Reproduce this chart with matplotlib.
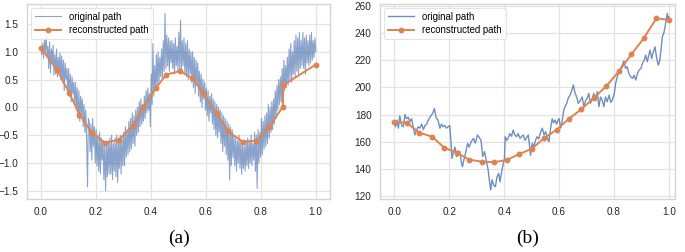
import numpy as np
import matplotlib
matplotlib.use('Agg')
import matplotlib.pyplot as plt

# ---- data ----

# (a) noisy periodic path, sampled on a uniform time grid
path_a = [
    1.05, 0.95, 1.15, 0.88, 1.22, 1.00, 1.30, 0.90,
    1.10, 0.70, 1.18, 0.62, 1.05, 0.80, 1.12, 0.58,
    0.95, 0.60, 1.05, 0.55, 0.90, 0.65, 0.98, 0.50,
    0.92, 0.45, 0.85, 0.30, 0.80, 0.50, 0.70, 0.28,
    0.70, 0.20, 0.60, 0.10, 0.55, 0.25, 0.45, 0.05,
    0.45, -0.05, 0.35, -0.20, 0.30, -0.25, 0.20, -0.10,
    0.15, -0.35, 0.05, -0.45, -0.05, -0.60, -1.43, -0.20,
    -0.25, -0.80, -0.30, -0.95, -0.20, -0.70, -0.35, -1.00,
    -0.40, -1.05, -0.50, -1.15, -0.45, -1.20, -0.55, -0.95,
    -0.60, -1.30, -0.70, -1.50, -0.65, -1.25, -0.60, -1.20,
    -0.55, -1.20, -0.50, -1.30, -0.65, -1.15, -0.55, -1.25,
    -0.50, -1.35, -0.60, -1.10, -0.50, -1.20, -0.55, -1.05,
    -0.45, -1.05, -0.35, -0.90, -0.40, -0.85, -0.25, -0.80,
    -0.20, -0.75, -0.10, -0.65, -0.15, -0.70, -0.05, -0.50,
    0.00, -0.45, 0.10, -0.35, 0.15, -0.30, 0.05, -0.25,
    0.20, -0.20, 0.30, -0.10, 0.35, -0.05, 0.25, -0.35,
    0.60, 0.05, 1.15, 0.20, 0.75, 0.30, 0.95, 0.35,
    1.00, 0.45, 0.90, 0.55, 1.05, 0.50, 1.20, 0.65,
    1.69, 0.70, 1.30, 0.75, 1.25, 0.65, 1.20, 0.80,
    1.20, 0.70, 1.15, 0.60, 1.25, 0.75, 1.10, 0.65,
    1.35, 0.70, 1.57, 0.65, 1.20, 0.75, 1.25, 0.60,
    1.15, 0.55, 1.20, 0.50, 1.05, 0.60, 1.00, 0.45,
    1.00, 0.35, 0.90, 0.25, 0.85, 0.40, 0.80, 0.20,
    0.65, 0.10, 0.60, 0.00, 0.50, 0.15, 0.45, -0.05,
    0.35, -0.15, 0.30, -0.25, 0.20, -0.10, 0.25, -0.30,
    0.15, -0.40, 0.10, -0.50, 0.05, -0.55, 0.00, -0.45,
    -0.05, -0.65, -0.10, -0.80, -0.15, -0.70, -0.20, -0.85,
    -0.25, -0.95, -0.30, -1.31, -0.35, -1.05, -0.40, -0.90,
    -0.50, -1.05, -0.55, -1.15, -0.60, -1.00, -0.50, -1.10,
    -0.60, -1.20, -0.65, -1.10, -0.70, -1.15, -0.60, -1.05,
    -0.55, -1.10, -0.60, -1.00, -0.50, -1.05, -0.65, -0.95,
    -0.45, -1.15, -0.50, -1.46, -0.40, -1.00, -0.45, -0.90,
    -0.20, -0.85, -0.25, -0.75, -0.15, -0.70, -0.10, -0.65,
    0.05, -0.55, 0.00, -0.45, 0.10, -0.40, 0.15, -0.30,
    0.30, -0.20, 0.40, -0.05, 0.50, 0.05, 0.55, 0.10,
    0.70, 0.20, 0.85, 0.30, 0.75, 0.35, 0.90, 0.40,
    1.05, 0.50, 1.15, 0.45, 1.00, 0.60, 1.20, 0.55,
    1.30, 0.65, 1.25, 0.60, 1.35, 0.70, 1.20, 0.75,
    1.35, 0.70, 1.25, 0.60, 1.30, 0.80, 1.20, 0.75,
    1.30, 0.80, 1.35, 0.85, 1.20, 0.90, 1.25, 1.00,
]

rec_a_t = [0.0, 0.059, 0.103, 0.14, 0.186, 0.233, 0.284, 0.334, 0.373, 0.417, 0.456,
           0.505, 0.55, 0.591, 0.64, 0.68, 0.735, 0.783, 0.83, 0.88, 0.882, 1.0]
rec_a_v = [1.07, 0.67, 0.26, -0.13, -0.46, -0.64, -0.58, -0.33, 0.01, 0.34, 0.59,
           0.65, 0.53, 0.25, -0.11, -0.43, -0.62, -0.60, -0.36, 0.01, 0.40, 0.77]

# (b) random-walk path
path_b_t = [
    0.000, 0.005, 0.010, 0.015, 0.020, 0.027, 0.033, 0.039, 0.045, 0.051,
    0.057, 0.063, 0.069, 0.075, 0.080, 0.087, 0.093, 0.100, 0.106, 0.112,
    0.118, 0.124, 0.133, 0.140, 0.146, 0.152, 0.159, 0.166, 0.172, 0.178,
    0.184, 0.190, 0.196, 0.202, 0.206, 0.210, 0.215, 0.221, 0.227, 0.233,
    0.239, 0.244, 0.248, 0.254, 0.260, 0.267, 0.273, 0.280, 0.288, 0.295,
    0.303, 0.310, 0.316, 0.322, 0.329, 0.336, 0.342, 0.346, 0.351, 0.356,
    0.362, 0.368, 0.374, 0.380, 0.385, 0.391, 0.397, 0.401, 0.404, 0.410,
    0.415, 0.421, 0.427, 0.433, 0.439, 0.445, 0.451, 0.458, 0.464, 0.470,
    0.476, 0.482, 0.488, 0.492, 0.496, 0.502, 0.508, 0.514, 0.520, 0.526,
    0.532, 0.539, 0.545, 0.551, 0.557, 0.563, 0.570, 0.575, 0.580, 0.585,
    0.591, 0.596, 0.600, 0.606, 0.611, 0.617, 0.622, 0.628, 0.633, 0.639,
    0.645, 0.652, 0.658, 0.664, 0.670, 0.676, 0.684, 0.690, 0.696, 0.702,
    0.708, 0.714, 0.720, 0.726, 0.733, 0.739, 0.745, 0.751, 0.757, 0.763,
    0.769, 0.775, 0.782, 0.788, 0.794, 0.801, 0.806, 0.812, 0.818, 0.824,
    0.830, 0.836, 0.842, 0.848, 0.854, 0.860, 0.867, 0.873, 0.879, 0.885,
    0.891, 0.898, 0.904, 0.910, 0.915, 0.921, 0.927, 0.931, 0.937, 0.943,
    0.949, 0.955, 0.961, 0.966, 0.971, 0.976, 0.981, 0.986, 0.990, 0.994,
    0.997, 1.000,
]
path_b_v = [
    174.5, 171, 176, 170, 179, 172, 171, 180, 177, 178,
    175, 177, 171, 165, 168, 171, 170, 173, 169, 172,
    173, 176, 179, 181, 184.6, 178, 176, 170, 173, 171,
    172, 170, 171, 172, 161, 147.7, 152, 156, 149, 153,
    152.7, 145, 141.6, 147, 152, 158.8, 156, 160, 162.5, 159,
    165, 163, 161, 149, 152.7, 145, 139, 132, 124.4, 132,
    128, 126.8, 134, 136.7, 130.5, 138, 144, 147, 163.7, 161,
    163, 166, 164, 168.6, 165, 163.7, 166, 162.5, 164, 165,
    161, 163, 165, 158, 150, 158.8, 156, 161, 163.7, 162,
    166.7, 170, 165, 167.4, 163, 160, 171, 177, 174, 176,
    173, 176, 177, 170, 175, 183.4, 186, 188.3, 192, 194,
    197, 201.8, 196, 193, 188.3, 190, 193, 185.8, 190, 192,
    195.6, 188.3, 191, 195.6, 190.7, 196.9, 185.8, 193, 190.7, 185.8,
    193, 189.5, 194.4, 189, 190.7, 195.6, 203, 208, 211.6, 214,
    216.5, 219.5, 214, 215.3, 210.4, 208, 206.7, 209, 205.5, 210,
    212.8, 214, 218, 220.2, 223.9, 219, 224, 227.6, 221.4, 226,
    230, 222, 216.5, 219, 227.6, 237.4, 239.9, 244.8, 250, 254.6,
    249.7, 252,
]

rec_b_t = [0.0, 0.045, 0.091, 0.138, 0.182, 0.228, 0.273, 0.319, 0.364, 0.409, 0.455, 0.501,
           0.546, 0.591, 0.636, 0.681, 0.727, 0.772, 0.818, 0.863, 0.908, 0.954, 1.0]
rec_b_v = [174.5, 174.0, 166.7, 163.7, 155.6, 151.9, 146.8, 145.3, 145.0, 146.5, 150.9, 154.9,
           162.7, 168.9, 177.0, 183.9, 192.5, 201.0, 211.9, 224.4, 236.2, 250.9, 249.9]

labels = ['(a)', '(b)']

# ---- style ----
blue = '#4C72B0'
orange = '#DD8452'
plt.rcParams['font.family'] = ['Liberation Sans', 'DejaVu Sans']
plt.rcParams['font.size'] = 7

fig = plt.figure(figsize=(6.85, 2.52), dpi=100)
axA = fig.add_axes([0.0394, 0.2103, 0.4424, 0.7737])
axB = fig.add_axes([0.5547, 0.2103, 0.4307, 0.7737])


def style(ax):
    ax.set_facecolor('white')
    ax.grid(True, color='#e3e3e3', linewidth=0.9)
    ax.set_axisbelow(True)
    for s in ax.spines.values():
        s.set_color('#d5d5d5')
        s.set_linewidth(1.0)
    ax.tick_params(length=0, pad=6, labelsize=7.2, colors='#262626')


t_a = np.linspace(0, 1, len(path_a))
axA.plot(t_a, path_a, color=blue, alpha=0.65, lw=0.8, label='original path')
axA.plot(rec_a_t, rec_a_v, color=orange, lw=1.4, marker='o', ms=3.2, label='reconstructed path')
axA.set_xlim(-0.051, 1.052)
axA.set_ylim(-1.65, 1.86)
axA.set_xticks([0.0, 0.2, 0.4, 0.6, 0.8, 1.0])
axA.set_yticks([-1.5, -1.0, -0.5, 0.0, 0.5, 1.0, 1.5])
style(axA)

axB.plot(path_b_t, path_b_v, color=blue, alpha=0.8, lw=1.0, label='original path')
axB.plot(rec_b_t, rec_b_v, color=orange, lw=1.4, marker='o', ms=3.2, label='reconstructed path')
axB.set_xlim(-0.052, 1.022)
axB.set_ylim(117.8, 261.5)
axB.set_xticks([0.0, 0.2, 0.4, 0.6, 0.8, 1.0])
axB.set_yticks(range(120, 261, 20))
style(axB)

for ax, lab in zip([axA, axB], labels):
    leg = ax.legend(loc='upper left', fontsize=6.9, frameon=True, borderaxespad=0.4,
                    handlelength=2.8, labelspacing=0.35)
    leg.get_frame().set_edgecolor('#dddddd')
    leg.get_frame().set_linewidth(0.8)
    ax.text(0.5, -0.2, lab, transform=ax.transAxes, ha='center', va='center',
            fontsize=14, family='Liberation Serif')

fig.savefig('out.png', dpi=100)
